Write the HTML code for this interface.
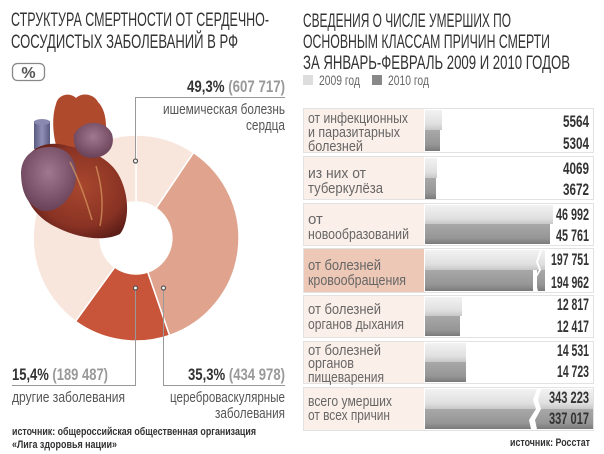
<!DOCTYPE html>
<html><head><meta charset="utf-8"><style>
html,body{margin:0;padding:0;background:#fff;width:604px;height:454px;overflow:hidden}
svg{display:block}
.t{font-family:"Liberation Sans Narrow","Liberation Sans","DejaVu Sans",sans-serif}
</style></head><body>
<svg width="604" height="454" viewBox="0 0 604 454" xmlns="http://www.w3.org/2000/svg" class="t">
<defs>
<linearGradient id="lg" x1="0" y1="0" x2="0" y2="1"><stop offset="0" stop-color="#f2f2f2"/><stop offset="0.7" stop-color="#e0e0e0"/><stop offset="1" stop-color="#c8c8c8"/></linearGradient>
<linearGradient id="dg" x1="0" y1="0" x2="0" y2="1"><stop offset="0" stop-color="#a8a8a8"/><stop offset="0.7" stop-color="#969696"/><stop offset="1" stop-color="#7a7a7a"/></linearGradient>
<radialGradient id="hb" cx="0.55" cy="0.45" r="0.6"><stop offset="0" stop-color="#a8472e"/><stop offset="0.7" stop-color="#8a3324"/><stop offset="1" stop-color="#5e1e18"/></radialGradient>
<radialGradient id="hp" cx="0.5" cy="0.4" r="0.6"><stop offset="0" stop-color="#a07890"/><stop offset="1" stop-color="#6a4258"/></radialGradient>
<linearGradient id="vb" x1="0" y1="0" x2="1" y2="0"><stop offset="0" stop-color="#5a5a80"/><stop offset="0.5" stop-color="#9090b8"/><stop offset="1" stop-color="#5a5a80"/></linearGradient>
</defs>
<text x="11" y="26" font-size="19" fill="#333" textLength="258" lengthAdjust="spacingAndGlyphs">СТРУКТУРА СМЕРТНОСТИ ОТ СЕРДЕЧНО-</text>
<text x="11" y="48" font-size="19" fill="#333" textLength="227" lengthAdjust="spacingAndGlyphs">СОСУДИСТЫХ ЗАБОЛЕВАНИЙ В РФ</text>
<rect x="12.5" y="63.5" width="32" height="17" rx="5" fill="none" stroke="#888" stroke-width="1.3"/>
<text x="28.5" y="78" font-size="16" fill="#555" text-anchor="middle" font-weight="bold">%</text>
<g transform="translate(136,238)">
<path d="M0,-103 A103,103 0 0 1 57.6,-85.4 L20.1,-29.8 A36,36 0 0 0 0,-36Z" fill="#f8e6dd" stroke="#fff" stroke-width="1.5"/>
<path d="M57.6,-85.4 A103,103 0 0 1 33.5,97.4 L11.7,34 A36,36 0 0 0 20.1,-29.8Z" fill="#e0a48e" stroke="#fff" stroke-width="1.5"/>
<path d="M33.5,97.4 A103,103 0 0 1 -60.5,83.3 L-21.2,29.1 A36,36 0 0 0 11.7,34Z" fill="#c8553a" stroke="#fff" stroke-width="1.5"/>
<path d="M-60.5,83.3 A103,103 0 0 1 0,-103 L0,-36 A36,36 0 0 0 -21.2,29.1Z" fill="#f8e6dd" stroke="#fff" stroke-width="1.5"/>
<circle r="36" fill="#fff"/>
</g>
<g>
<path d="M56,104 C58,94 70,92 76,98 C82,92 94,94 98,102 C106,110 108,126 104,142 L58,152 C52,134 52,116 56,104Z" fill="#b04a2c"/>
<rect x="34" y="121" width="16" height="28" fill="url(#vb)"/>
<ellipse cx="42" cy="122" rx="8" ry="3" fill="#8a8ab0"/>
<path d="M26,162 C30,146 50,140 68,146 C92,150 114,160 122,182 C130,202 128,224 120,234 C104,242 78,238 58,228 C40,220 28,206 25,190 Z" fill="url(#hb)"/>
<path d="M21,172 C22,152 40,144 58,148 C74,152 80,170 74,188 C66,206 52,214 40,210 C26,204 21,190 21,172Z" fill="url(#hp)"/>
<path d="M74,134 C84,118 106,120 112,134 C116,148 106,158 92,158 C80,158 72,148 74,134Z" fill="url(#hp)"/>
<path d="M70,162 C80,182 86,200 92,220 M96,166 C102,186 104,206 100,226" stroke="#d89a60" stroke-width="1.5" fill="none" opacity="0.7"/>
</g>
<g stroke="#999" stroke-width="1" fill="none">
<path d="M135.5,160 V97.5 H285"/>
<path d="M135.5,288 V385.5 H12"/>
<path d="M163.5,288 V385.5 H285"/>
</g>
<g fill="#fff" stroke="#555" stroke-width="1.2"><circle cx="135.5" cy="161" r="2"/><circle cx="135.5" cy="288" r="2"/><circle cx="163.5" cy="288" r="2"/></g>
<text x="187" y="92" font-size="17" fill="#333" font-weight="bold" textLength="98" lengthAdjust="spacingAndGlyphs">49,3% <tspan fill="#999">(607 717)</tspan></text>
<text x="163" y="114" font-size="15" fill="#555" textLength="122" lengthAdjust="spacingAndGlyphs">ишемическая болезнь</text>
<text x="246" y="130" font-size="15" fill="#555" textLength="39" lengthAdjust="spacingAndGlyphs">сердца</text>
<text x="12" y="380" font-size="17" fill="#333" font-weight="bold" textLength="96" lengthAdjust="spacingAndGlyphs">15,4% <tspan fill="#999">(189 487)</tspan></text>
<text x="12" y="402" font-size="15" fill="#555" textLength="113" lengthAdjust="spacingAndGlyphs">другие заболевания</text>
<text x="188" y="380" font-size="17" fill="#333" font-weight="bold" textLength="97" lengthAdjust="spacingAndGlyphs">35,3% <tspan fill="#999">(434 978)</tspan></text>
<text x="170" y="402" font-size="15" fill="#555" textLength="115" lengthAdjust="spacingAndGlyphs">цереброваскулярные</text>
<text x="215" y="418" font-size="15" fill="#555" textLength="70" lengthAdjust="spacingAndGlyphs">заболевания</text>
<text x="12" y="435" font-size="11" fill="#333" font-weight="bold" textLength="244" lengthAdjust="spacingAndGlyphs">источник: общероссийская общественная организация</text>
<text x="12" y="448" font-size="11" fill="#333" font-weight="bold" textLength="105" lengthAdjust="spacingAndGlyphs">«Лига здоровья нации»</text>
<text x="303" y="27" font-size="19" fill="#333" textLength="208" lengthAdjust="spacingAndGlyphs">СВЕДЕНИЯ О ЧИСЛЕ УМЕРШИХ ПО</text>
<text x="303" y="48" font-size="19" fill="#333" textLength="247" lengthAdjust="spacingAndGlyphs">ОСНОВНЫМ КЛАССАМ ПРИЧИН СМЕРТИ</text>
<text x="303" y="69" font-size="19" fill="#333" textLength="267" lengthAdjust="spacingAndGlyphs">ЗА ЯНВАРЬ-ФЕВРАЛЬ 2009 И 2010 ГОДОВ</text>
<rect x="303" y="75" width="10" height="10" fill="#ddd"/>
<text x="319" y="85" font-size="14" fill="#666" textLength="41" lengthAdjust="spacingAndGlyphs">2009 год</text>
<rect x="372" y="75" width="10" height="10" fill="#888"/>
<text x="388" y="85" font-size="14" fill="#666" textLength="41" lengthAdjust="spacingAndGlyphs">2010 год</text>
<g stroke="#e2e2e2" fill="none">
<rect x="303.5" y="108.5" width="290" height="44"/>
<rect x="303.5" y="156.5" width="290" height="43"/>
<rect x="303.5" y="203.5" width="290" height="42"/>
<rect x="303.5" y="248.5" width="290" height="44"/>
<rect x="303.5" y="295.5" width="290" height="42"/>
<rect x="303.5" y="341.5" width="290" height="42"/>
<rect x="303.5" y="387.5" width="290" height="43"/>
</g>
<g fill="#fbefe9">
<rect x="304" y="109" width="120" height="43"/>
<rect x="304" y="157" width="120" height="42"/>
<rect x="304" y="204" width="120" height="41"/>
<rect x="304" y="249" width="120" height="43" fill="#edc8b7"/>
<rect x="304" y="296" width="120" height="41"/>
<rect x="304" y="342" width="120" height="41"/>
<rect x="304" y="388" width="120" height="42"/>
</g>
<g font-size="15" fill="#666">
<text x="308" y="123" textLength="100" lengthAdjust="spacingAndGlyphs">от инфекционных</text><text x="308" y="137" textLength="92" lengthAdjust="spacingAndGlyphs">и паразитарных</text><text x="308" y="151" textLength="55" lengthAdjust="spacingAndGlyphs">болезней</text>
<text x="308" y="178" textLength="58" lengthAdjust="spacingAndGlyphs">из них от</text><text x="308" y="193" textLength="75" lengthAdjust="spacingAndGlyphs">туберкулёза</text>
<text x="308" y="224">от</text><text x="308" y="239" textLength="101" lengthAdjust="spacingAndGlyphs">новообразований</text>
<text x="308" y="270" textLength="73" lengthAdjust="spacingAndGlyphs">от болезней</text><text x="308" y="285" textLength="98" lengthAdjust="spacingAndGlyphs">кровообращения</text>
<text x="308" y="314" textLength="73" lengthAdjust="spacingAndGlyphs">от болезней</text><text x="308" y="329" textLength="96" lengthAdjust="spacingAndGlyphs">органов дыхания</text>
<text x="308" y="355" textLength="73" lengthAdjust="spacingAndGlyphs">от болезней</text><text x="308" y="368" textLength="46" lengthAdjust="spacingAndGlyphs">органов</text><text x="308" y="382" textLength="76" lengthAdjust="spacingAndGlyphs">пищеварения</text>
<text x="308" y="406" textLength="84" lengthAdjust="spacingAndGlyphs">всего умерших</text><text x="308" y="420" textLength="82" lengthAdjust="spacingAndGlyphs">от всех причин</text>
</g>
<g>
<rect x="425" y="110" width="17" height="20" fill="url(#lg)"/><rect x="425" y="130" width="15" height="21" fill="url(#dg)"/>
<rect x="425" y="158" width="12" height="20" fill="url(#lg)"/><rect x="425" y="178" width="11" height="21" fill="url(#dg)"/>
<rect x="425" y="205" width="128" height="19" fill="url(#lg)"/><rect x="425" y="224" width="125" height="20" fill="url(#dg)"/>
<rect x="425" y="250" width="120" height="20" fill="url(#lg)"/><rect x="425" y="270" width="108" height="21" fill="url(#dg)"/><rect x="537" y="270" width="8" height="21" fill="url(#dg)"/>
<path d="M540,250 L536,262 L539,270 L533,280 L536,291 L538,291 L535,280 L541,270 L538,262 L542,250Z" fill="#fff"/>
<rect x="425" y="297" width="37" height="19" fill="url(#lg)"/><rect x="425" y="316" width="35" height="20" fill="url(#dg)"/>
<rect x="425" y="343" width="41" height="19" fill="url(#lg)"/><rect x="425" y="362" width="41" height="20" fill="url(#dg)"/>
<rect x="425" y="389" width="168" height="20" fill="url(#lg)"/><rect x="425" y="409" width="168" height="20" fill="url(#dg)"/>
<path d="M537,389 L533,400 L536,409 L529,420 L531,429 L537,429 L535,420 L541,409 L538,400 L541,389Z" fill="#fff"/>
</g>
<g font-size="17" font-weight="bold" fill="#333">
<text x="563" y="127" textLength="26" lengthAdjust="spacingAndGlyphs">5564</text><text x="563" y="149" textLength="26" lengthAdjust="spacingAndGlyphs">5304</text>
<text x="563" y="174" textLength="26" lengthAdjust="spacingAndGlyphs">4069</text><text x="563" y="195" textLength="26" lengthAdjust="spacingAndGlyphs">3672</text>
<text x="556" y="220" textLength="33" lengthAdjust="spacingAndGlyphs">46 992</text><text x="556" y="241" textLength="33" lengthAdjust="spacingAndGlyphs">45 761</text>
<text x="551" y="265" textLength="38" lengthAdjust="spacingAndGlyphs">197 751</text><text x="551" y="288" textLength="38" lengthAdjust="spacingAndGlyphs">194 962</text>
<text x="557" y="310" textLength="32" lengthAdjust="spacingAndGlyphs">12 817</text><text x="557" y="332" textLength="32" lengthAdjust="spacingAndGlyphs">12 417</text>
<text x="557" y="356" textLength="32" lengthAdjust="spacingAndGlyphs">14 531</text><text x="557" y="377" textLength="32" lengthAdjust="spacingAndGlyphs">14 723</text>
<text x="549" y="403" textLength="40" lengthAdjust="spacingAndGlyphs">343 223</text><text x="549" y="424" textLength="40" lengthAdjust="spacingAndGlyphs">337 017</text>
</g>
<text x="510" y="446" font-size="11" fill="#333" font-weight="bold" textLength="80" lengthAdjust="spacingAndGlyphs">источник: Росстат</text>
</svg>
</body></html>
